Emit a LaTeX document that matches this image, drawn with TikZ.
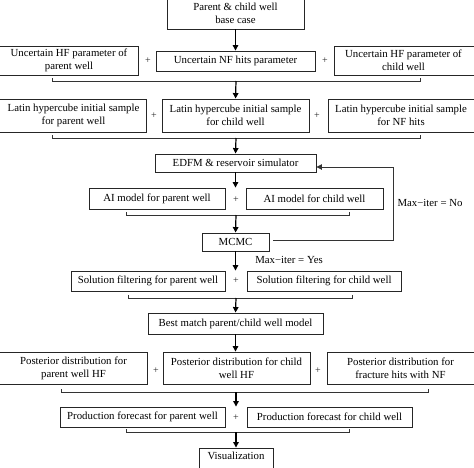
\documentclass[tikz,border=0pt]{standalone}
\usepackage{fontspec}
\setmainfont{Liberation Serif}
\usetikzlibrary{arrows.meta}
\begin{document}
\begin{tikzpicture}[x=1pt,y=-1pt,
  bx/.style 2 args={draw=black!85, line width=0.9pt, inner sep=0pt, align=center,
    minimum width=#1pt, minimum height=#2pt, font=\fontsize{10.8}{12.7}\selectfont, text=black},
  arr/.style={draw=black, line width=1.2pt, -{Triangle[length=5.5pt,width=5.5pt]}},
  fbarr/.style={draw=black!80, line width=0.9pt, -{Triangle[length=5.5pt,width=5.5pt]}},
  brk/.style={draw=black!80, line width=0.9pt},
  plus/.style={font=\fontsize{10}{12}\selectfont, text=black!85, inner sep=0pt},
  lbl/.style={font=\fontsize{10.8}{12.7}\selectfont, text=black, inner sep=0pt}]
\useasboundingbox (0,0) rectangle (474,467);

% row 1
\node[bx={137}{33}] (base) at (235.5,12.5) {\\[-3pt]Parent \& child well\\base case};
% row 2
\node[bx={141}{29}] (hfp) at (67.5,60.5) {\hspace*{3pt}Uncertain HF parameter of\\\hspace*{3pt}parent well};
\node[bx={159}{20}] (nf) at (235.5,61) {Uncertain NF hits parameter};
\node[bx={142}{29}] (hfc) at (405,60.5) {Uncertain HF parameter of\hspace*{3pt}\\child well\hspace*{3pt}};
\node[plus] (p1) at (148,61) {+};
\node[plus] (p2) at (325,61) {+};
% row 3
\node[bx={149}{33}] (lhp) at (71.5,115.5) {\hspace*{4pt}Latin hypercube initial sample\\\hspace*{4pt}for parent well};
\node[bx={147}{33}] (lhc) at (235.5,115.5) {Latin hypercube initial sample\\for child well};
\node[bx={149}{33}] (lhn) at (402.5,115.5) {Latin hypercube initial sample\hspace*{3pt}\\for NF hits\hspace*{3pt}};
\node[plus] (p3) at (154,116) {+};
\node[plus] (p4) at (317,116) {+};
% EDFM
\node[bx={161}{18}] (edfm) at (235.5,163) {EDFM \& reservoir simulator};
% AI
\node[bx={136}{21}] (aip) at (157,198.5) {AI model for parent well};
\node[bx={137}{21}] (aic) at (314.5,198.5) {AI model for child well};
\node[plus] (p5) at (236,200) {+};
% MCMC
\node[bx={67}{18}] (mcmc) at (235.5,242) {MCMC};
% Solution
\node[bx={154}{20}] (sfp) at (148,281) {Solution filtering for parent well};
\node[bx={154}{20}] (sfc) at (324,281) {Solution filtering for child well};
\node[plus] (p6) at (236,281) {+};
% Best match
\node[bx={175}{21}] (best) at (235.5,323.5) {Best match parent/child well model};
% Posterior
\node[bx={150}{32}] (ppw) at (72,368) {\hspace*{3pt}Posterior distribution for\\\hspace*{3pt}parent well HF};
\node[bx={147}{32}] (pcw) at (236.5,368) {Posterior distribution for child\\well HF};
\node[bx={150}{32}] (pnf) at (402,368) {Posterior distribution for\hspace*{3pt}\\fracture hits with NF\hspace*{3pt}};
\node[plus] (p7) at (156,371) {+};
\node[plus] (p8) at (318,371) {+};
% Production
\node[bx={165}{20}] (pfp) at (142.5,417) {Production forecast for parent well};
\node[bx={165}{20}] (pfc) at (329.5,417) {Production forecast for child well};
\node[plus] (p9) at (236,418) {+};
% Visualization
\node[bx={74}{26}] (vis) at (236,461) {\\[-2pt]Visualization\\[2pt]};

% labels
\node[lbl] (lno) at (430,203) {Max−iter = No};
\node[lbl] (lyes) at (289,260) {Max−iter = Yes};

% bracket coordinates
\coordinate (b1l) at (52,81);  \coordinate (b1r) at (420,81);  \coordinate (b1) at (236,81);
\coordinate (b2l) at (52,138); \coordinate (b2r) at (420,138); \coordinate (b2) at (236,138);
\coordinate (b3l) at (126,215); \coordinate (b3r) at (349,215); \coordinate (b3) at (236,215);
\coordinate (b4l) at (128,298); \coordinate (b4r) at (352,298); \coordinate (b4) at (236,298);
\coordinate (b5l) at (61,392); \coordinate (b5r) at (428,392); \coordinate (b5) at (236,392);
\coordinate (b6l) at (126,432); \coordinate (b6r) at (349,432); \coordinate (b6) at (236,432);
\foreach \b in {b1,b2,b3,b4,b5,b6}{
  \draw[brk] ([yshift=3pt]\b l) -- (\b l) -- (\b r) -- ([yshift=3pt]\b r);
}

% arrows
\draw[arr] (base.south) -- (nf.north);
\draw[arr] (b1) -- (lhc.north);
\draw[arr] (b2) -- (edfm.north);
\draw[arr] (edfm.south) -- (edfm.south |- aip.north);
\draw[arr] (b3) -- (mcmc.north);
\draw[arr] (mcmc.south) -- (mcmc.south |- sfp.north);
\draw[arr] (b4) -- (best.north);
\draw[arr] (best.south) -- (pcw.north -| best.south);
\draw[arr] (b5) -- (b5 |- pfp.north);
\draw[arr] (b6) -- (vis.north);
\coordinate (fbs) at (273,240);
\coordinate (fb) at (393,240);
\draw[fbarr] (fbs) -- (fb) |- ([yshift=-4pt]edfm.east);
\end{tikzpicture}
\end{document}
